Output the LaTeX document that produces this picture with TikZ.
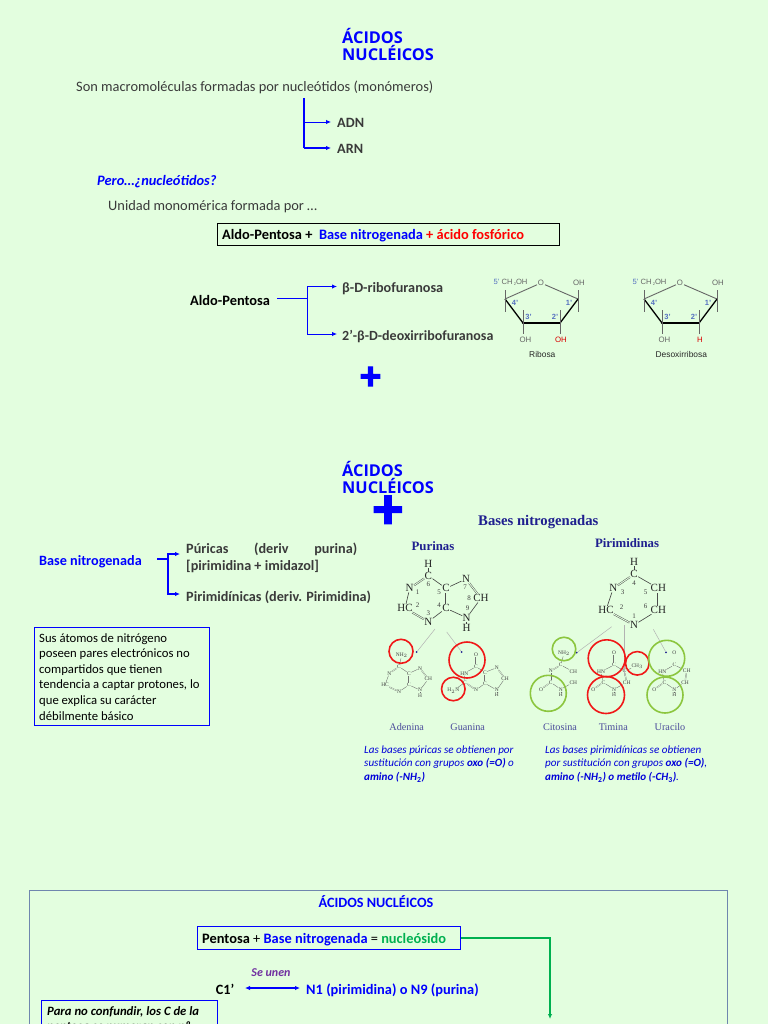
\documentclass[tikz,border=0pt]{standalone}
\usepackage{fontspec}
\setmainfont{Carlito}
\newfontfamily\titlefont{Open Sans}
\newfontfamily\chemfont{Liberation Serif}
\newfontfamily\ringfont{Liberation Sans}
\newfontfamily\plusfont[BoldFont=Carlito Bold,BoldFeatures={FakeBold=3}]{Carlito}
\usetikzlibrary{positioning, calc, arrows.meta}

\definecolor{bgcol}{HTML}{E3FEDF}
\definecolor{txtgray}{HTML}{3A3A3A}
\definecolor{navycol}{HTML}{1F1F8F}
\definecolor{labcol}{HTML}{4A4A9A}
\definecolor{ringblue}{HTML}{5570C0}
\definecolor{ringgray}{HTML}{666666}
\definecolor{framecol}{HTML}{6F86AE}
\definecolor{baseblue}{HTML}{0000FF}
\definecolor{nucgreen}{HTML}{00B050}
\definecolor{unepurple}{HTML}{7030A0}
\definecolor{circred}{HTML}{F01818}
\definecolor{circgreen}{HTML}{8CC63F}

\tikzset{
  txt/.style={anchor=west,inner sep=0pt,text height=13pt,text depth=2pt,font=\fontsize{14.4}{16}\selectfont},
  graytxt/.style={txt,text=txtgray},
  boldtxt/.style={txt,text=txtgray,font=\fontsize{14.2}{16}\selectfont\bfseries},
  bluetxt/.style={txt,text=baseblue,font=\fontsize{14.4}{16}\selectfont\bfseries},
  maintitle/.style={anchor=west,inner sep=0pt,align=left,text=baseblue,font=\fontsize{16.3}{17}\selectfont\titlefont\bfseries},
  plusmark/.style={inner sep=0pt,text=baseblue},
  arrowline/.style={baseblue,line width=1.1pt,-{Latex[length=5pt,width=4.5pt]}},
  plainline/.style={baseblue,line width=1.1pt},
  bluebox/.style={draw=baseblue,line width=.9pt,inner sep=0pt},
  atom/.style={inner sep=.3pt,text=black!85,font=\fontsize{11}{11}\selectfont\chemfont},
  atomnum/.style={inner sep=0pt,text=black!75,font=\fontsize{7}{7}\selectfont\chemfont},
  tinyatom/.style={inner sep=.3pt,text=black!75,font=\fontsize{5.4}{5.4}\selectfont\chemfont},
  bond/.style={black!75,line width=.6pt},
  dbond/.style={black!70,double=bgcol,double distance=.9pt,line width=.45pt},
  tinybond/.style={black!60,line width=.35pt},
  tinydbond/.style={black!55,double=bgcol,double distance=.6pt,line width=.28pt},
  pointer/.style={black!30,line width=.5pt},
  bluedot/.style={circle,fill=navycol,inner sep=0pt,minimum size=2pt},
  redring/.style={circle,draw=circred,line width=1.6pt,inner sep=0pt},
  greenring/.style={circle,draw=circgreen,line width=1.6pt,inner sep=0pt},
  ringlab/.style={inner sep=0pt,font=\fontsize{7.8}{8}\selectfont\ringfont},
  ringnum/.style={inner sep=0pt,text=ringblue,font=\fontsize{7.5}{8}\selectfont\ringfont\bfseries},
  basename/.style={inner sep=0pt,text=labcol,font=\fontsize{10.2}{11}\selectfont\chemfont},
  capt/.style={anchor=north west,inner sep=0pt,align=left,text=baseblue!85!black,font=\fontsize{11.1}{13.5}\selectfont\itshape}
}

\begin{document}
\begin{tikzpicture}[x=1pt,y=-1pt]
  \useasboundingbox (0,0) rectangle (768,1024);
  \clip (0,0) rectangle (768,1024);
  \fill[bgcol] (0,0) rectangle (768,1024);

  % First title and definition
  \node[maintitle] (title1) at (342,44) {ÁCIDOS\\NUCLÉICOS};
  \node[graytxt] (defn) at (76,86) {Son macromoléculas formadas por nucleótidos (monómeros)};
  \node[boldtxt] (adn) at (337,122) {ADN};
  \node[boldtxt] (arn) at (337,148) {ARN};
  \coordinate (treetop) at (304,98);
  \coordinate (treemid) at (304,122);
  \coordinate (treelow) at (304,148);
  \draw[plainline] (treetop) -- (treelow);
  \draw[arrowline,line width=.9pt] (treemid) -- ++(27,0);
  \draw[arrowline] (treelow) -- ++(27,0);

  % Monomer question
  \node[bluetxt,font=\fontsize{14.4}{16}\selectfont\bfseries\itshape] (pero) at (97,180) {Pero…¿nucleótidos?};
  \node[graytxt] (unidad) at (108,205) {Unidad monomérica formada por …};
  \node[draw=black,line width=.9pt,minimum width=342pt,minimum height=22pt,inner sep=0pt] (formula) at (388,234) {};
  \node[txt,font=\fontsize{14.4}{16}\selectfont\bfseries] (formtxt) at (222,234.5) {Aldo-Pentosa + \ \textcolor{baseblue}{Base nitrogenada} \textcolor{red}{+ ácido fosfórico}};

  % Pentose branch
  \node[txt,font=\fontsize{14.4}{16}\selectfont\bfseries] (aldo) at (190,300) {Aldo-Pentosa};
  \node[boldtxt] (ribo) at (342,287) {β-D-ribofuranosa};
  \node[boldtxt,font=\fontsize{14}{16}\selectfont\bfseries] (deoxi) at (342,335) {2’-β-D-deoxirribofuranosa};
  \coordinate (aldojoin) at (307,298.7);
  \draw[plainline,line width=.9pt] (277,298.7) -- (aldojoin);
  \draw[arrowline,line width=.9pt] (aldojoin) |- ($(ribo.west)+(-5,-.5)$);
  \draw[arrowline,line width=.9pt] (aldojoin) |- ($(deoxi.west)+(-5,-1)$);

  % Sugar rings
  \foreach \sug/\dx/\lastatom/\sugname in {rib/0/OH/Ribosa,des/139/H/Desoxirribosa}{
    \begin{scope}[shift={(\dx,0)}]
      \node[ringlab,inner sep=.8pt,text=ringgray] (\sug O) at (541,283) {O};
      \coordinate (\sug C4) at (505,299);
      \coordinate (\sug C1) at (578,299);
      \coordinate (\sug C3) at (523,323);
      \coordinate (\sug C2) at (560,323);
      \draw[ringgray,line width=.9pt] (\sug O) -- (\sug C4);
      \draw[ringgray,line width=.9pt] (\sug O) -- (\sug C1);
      \draw[black,line width=1.3pt] (\sug C4) -- (\sug C3);
      \draw[black,line width=1.3pt] (\sug C1) -- (\sug C2);
      \draw[black,line width=2.4pt,line cap=round] (\sug C3) -- (\sug C2);
      \draw[ringgray,line width=.8pt] (505,290) -- (505,312);
      \draw[ringgray,line width=.8pt] (578,290) -- (578,312);
      \draw[ringgray,line width=.8pt] (523,310) -- (523,334);
      \draw[ringgray,line width=.8pt] (560,310) -- (560,334);
      \node[ringlab,text=ringgray,font=\fontsize{7.6}{8}\selectfont\ringfont] (\sug top) at (510.5,282.5) {\textcolor{ringblue}{5’} CH\,\raisebox{-1pt}{\fontsize{4}{4}\selectfont 2}OH};
      \node[ringlab,text=ringgray] (\sug oh) at (579,282.5) {OH};
      \node[ringnum] (\sug n4) at (515,302.5) {4’};
      \node[ringnum] (\sug n1) at (569,302.5) {1’};
      \node[ringnum] (\sug n3) at (528.5,316.5) {3’};
      \node[ringnum] (\sug n2) at (555,316.5) {2’};
      \node[ringlab,text=ringgray] (\sug oh3) at (525.5,340) {OH};
      \node[ringlab,text=red!85!black] (\sug oh2) at (561,340) {\lastatom};
      \node[ringlab,text=black!85,font=\fontsize{8.4}{9}\selectfont\ringfont] (\sug name) at (542.3,354) {\sugname};
    \end{scope}
  }

  % Big plus signs
  \node[plusmark,font=\fontsize{40}{40}\selectfont\plusfont\bfseries] (plus1) at (370.5,378) {+};
  \node[plusmark,font=\fontsize{58}{58}\selectfont\plusfont\bfseries] (plus2) at (388,512) {+};

  % Second title and base branch
  \node[maintitle] (title2) at (342,477) {ÁCIDOS\\NUCLÉICOS};
  \node[bluetxt,font=\fontsize{14.2}{16}\selectfont\bfseries] (basen) at (39,560) {Base nitrogenada};
  \node[boldtxt] (puric) at (186,548) {\makebox[171pt][s]{Púricas\hfill(deriv\hfill purina)}};
  \node[boldtxt] (puricb) at (186,565) {[pirimidina + imidazol]};
  \node[boldtxt] (pirim) at (186,595.5) {Pirimidínicas (deriv. Pirimidina)};
  \coordinate (basejoin) at (168,559);
  \draw[plainline] (157,559) -- (basejoin);
  \draw[arrowline] (basejoin) |- (180,554);
  \draw[arrowline] (basejoin) |- (180,594);
  \node[bluebox,anchor=north west,minimum width=175pt,minimum height=98pt] (notebox) at (34,627) {};
  \node[anchor=north west,inner sep=0pt,align=left,text=black,font=\fontsize{12.7}{15.6}\selectfont] (notetxt) at (39,633) {Sus átomos de nitrógeno\\poseen pares electrónicos no\\compartidos que tienen\\tendencia a captar protones, lo\\que explica su carácter\\débilmente básico};

  % Titles of the base figure
  \node[anchor=west,inner sep=0pt,text=navycol,font=\fontsize{14.7}{15}\selectfont\chemfont\bfseries] (basetit) at (478,522) {Bases nitrogenadas};
  \node[inner sep=0pt,text=navycol,font=\fontsize{12.8}{13}\selectfont\chemfont\bfseries] (purtit) at (433,546) {Purinas};
  \node[inner sep=0pt,text=navycol,font=\fontsize{12.8}{13}\selectfont\chemfont\bfseries] (pirtit) at (627,543) {Pirimidinas};

  % Purine
  \foreach \id/\x/\y/\sym in {pH/428.3/564.3/H,pC6/428.3/575.7/C,pN1/409.7/588.3/N,pC5/446/588.3/C,pC4/446/608.3/C,pN7/466/579/N,pC8/481/598.3/CH,pN9/466.7/617.7/N,pH9/466.7/628.3/H,pN3/428.3/621.7/N,pC2/405/608.3/HC}
    \node[atom] (\id) at (\x,\y) {\sym};
  \foreach \id/\x/\y/\sym in {n1/417.7/592/1,n6/428.3/584/6,n5/439/592/5,n4/439/605.3/4,n7/465/587.7/7,n8/469/598.3/8,n9/467.7/608/9,n3/428.3/613.3/3,n2/417.7/605.3/2}
    \node[atomnum] (p\id) at (\x,\y) {\sym};
  \foreach \a/\b in {pH/pC6,pC6/pC5,pN1/pC2,pN3/pC4,pC5/pN7,pC8/pN9,pN9/pC4,pN9/pH9}
    \draw[bond] (\a) -- (\b);
  \foreach \a/\b in {pC6/pN1,pC2/pN3,pC4/pC5,pN7/pC8}
    \draw[dbond] (\a) -- (\b);

  % Pyrimidine
  \foreach \id/\x/\y/\sym in {yH/634/562.3/H,yC4/634/574.3/C,yN3/613.3/588.3/N,yC5/658.3/588.3/CH,yC6/658.3/610/CH,yC2/606/610/HC,yN1/634/625/N}
    \node[atom] (\id) at (\x,\y) {\sym};
  \foreach \id/\x/\y/\sym in {n4/634/582.7/4,n3/622.7/592.7/3,n5/645.7/592.7/5,n6/645.7/606.7/6,n2/621.7/606.7/2,n1/634/615.7/1}
    \node[atomnum] (y\id) at (\x,\y) {\sym};
  \foreach \a/\b in {yH/yC4,yN3/yC2,yN1/yC6,yC5/yC4}
    \draw[bond] (\a) -- (\b);
  \foreach \a/\b in {yC4/yN3,yC2/yN1,yC6/yC5}
    \draw[dbond] (\a) -- (\b);

  % Small derived bases
  \foreach \id/\x/\y/\sym in {aNH/401.7/655.3/NH$_2$,aC6/399/666.7/C,aN1/389.3/673.3/N,aC2/385/685/HC,aN3/399/691.7/N,aC4/409/685/C,aC5/409/673.3/C,aN7/420/668.3/N,aC8/428.3/679/CH,aN9/420/690/N,aH/420/695.7/H,
      gO/476/655/O,gC6/476/666.7/C,gN1/464.3/673.3/HN,gC2/465/682.3/C,gNH/453.3/690.7/H$_2$N,gN3/476/690/N,gC4/485/683.3/C,gC5/485/672.3/C,gN7/496.7/667.7/N,gC8/505/678.3/CH,gN9/496.7/690/N,gH/496.7/695/H,
      cNH/564/653.3/NH$_2$,cC4/560.7/665/C,cN3/550.7/671/N,cC5/573.3/671.7/CH,cC6/573.3/682.3/CH,cC2/550.7/682.3/C,cO/541/689.3/O,cN1/560.7/689.3/N,cH/560.7/695/H,
      tO/614/652.7/O,tC4/614/665/C,tN3/601/671.7/HN,tC5/624.3/671/C,tMe/637.3/666/CH$_3$,tC6/626.7/682.3/CH,tC2/603.3/682.3/C,tOb/593.3/689.3/O,tN1/614/689.3/N,tH/614/695/H,
      uO/674.3/652.7/O,uC4/674.3/665/C,uN3/662.3/671.7/HN,uC5/686.7/671/CH,uC6/685/682.3/CH,uC2/664.3/682.3/C,uOb/654.3/689.3/O,uN1/674.3/689.3/N,uH/674.3/695/H}
    \node[tinyatom] (\id) at (\x,\y) {\sym};
  \foreach \a/\b in {aNH/aC6,aC6/aC5,aN1/aC2,aN3/aC4,aC5/aN7,aC8/aN9,aN9/aC4,aN9/aH,
      gC6/gC5,gC6/gN1,gN1/gC2,gC2/gNH,gN3/gC4,gC5/gN7,gC8/gN9,gN9/gC4,gN9/gH,
      cNH/cC4,cC4/cC5,cN3/cC2,cC2/cN1,cN1/cC6,cN1/cH,
      tC4/tN3,tC4/tC5,tC5/tMe,tN3/tC2,tC2/tN1,tN1/tC6,tN1/tH,
      uC4/uN3,uC4/uC5,uN3/uC2,uC2/uN1,uN1/uC6,uN1/uH}
    \draw[tinybond] (\a) -- (\b);
  \foreach \a/\b in {aC6/aN1,aC2/aN3,aC4/aC5,aN7/aC8,gO/gC6,gC2/gN3,gC4/gC5,gN7/gC8,cC4/cN3,cC5/cC6,cC2/cO,tO/tC4,tC5/tC6,tC2/tOb,uO/uC4,uC5/uC6,uC2/uOb}
    \draw[tinydbond] (\a) -- (\b);

  % Pointers from the parent rings
  \foreach \id/\x/\y in {pdA/416.7/652,pdG/461.7/652,pdC/576.7/652.7,pdU/666/652.3}
    \node[bluedot] (\id) at (\x,\y) {};
  \coordinate (ptA) at (435,629);
  \coordinate (ptG) at (446.7,632);
  \coordinate (ptC) at (611.7,626.7);
  \coordinate (ptT) at (624.3,625);
  \coordinate (ptU) at (653.3,629.3);
  \coordinate (ptTend) at (624.3,676);
  \foreach \a/\b in {ptA/pdA,ptG/pdG,ptC/pdC,ptT/ptTend,ptU/pdU}
    \draw[pointer] (\a) -- (\b);

  % Circled groups
  \foreach \id/\x/\y/\d in {rA/401/651.3/24,rG/467/660/36,rGb/453.3/689/23.5,rTa/606.7/658.3/37,rTb/606/695/37,rTc/637.3/663.3/23.5}
    \node[redring,minimum size=\d pt] (\id) at (\x,\y) {};
  \foreach \id/\x/\y/\d in {gCa/564/649/23.5,gCb/548.3/693.3/36,gUa/666.7/658.3/36,gUb/665/695/36}
    \node[greenring,minimum size=\d pt] (\id) at (\x,\y) {};

  % Names of the bases
  \foreach \id/\x/\sym in {adenina/406.7/Adenina,guanina/467.7/Guanina,citosina/560/Citosina,timina/613.3/Timina,uracilo/670/Uracilo}
    \node[basename] (\id) at (\x,727) {\sym};

  % Captions
  \node[capt] (captpur) at (364,745.5) {Las bases púricas se obtienen por\\sustitución con grupos \textbf{oxo (=O)} o\\\textbf{amino (-NH$_{\mathbf{2}}$)}};
  \node[capt] (captpir) at (545,745.5) {Las bases pirimidínicas se obtienen\\por sustitución con grupos \textbf{oxo (=O)},\\\textbf{amino (-NH$_{\mathbf{2}}$) o metilo (-CH$_{\mathbf{3}}$)}.};

  % Lower frame
  \node[draw=framecol,line width=1pt,anchor=north west,minimum width=698pt,minimum height=200pt,inner sep=0pt] (frame) at (29,890) {};
  \node[bluetxt,anchor=center,font=\fontsize{14.2}{15}\selectfont\bfseries] (title3) at (376,902) {ÁCIDOS NUCLÉICOS};
  \node[bluebox,anchor=north west,minimum width=263pt,minimum height=23pt] (nucbox) at (197,926) {};
  \node[txt,text=black] (nuctxt) at (202,938) {\textbf{Pentosa} + \textcolor{baseblue}{\textbf{Base nitrogenada}} = \textcolor{nucgreen}{\textbf{nucleósido}}};
  \coordinate (nucend) at (550,1019);
  \draw[nucgreen,line width=1.4pt,-{Latex[length=5pt,width=4.5pt]}] (nucbox.east) -| (nucend);
  \node[inner sep=0pt,text=unepurple,font=\fontsize{12}{14}\selectfont\itshape\bfseries] (seunen) at (271,973) {Se unen};
  \node[boldtxt,anchor=center,text=black] (cone) at (225,989) {C1’};
  \node[bluetxt] (nunion) at (306,989) {N1 (pirimidina) o N9 (purina)};
  \draw[baseblue,line width=1.2pt,{Latex[length=5pt,width=4.5pt]}-{Latex[length=5pt,width=4.5pt]}] (245,988) -- (300,988);
  \node[bluebox,anchor=north west,minimum width=176pt,minimum height=60pt] (warnbox) at (41,1000) {};
  \node[anchor=north west,inner sep=0pt,align=left,text=black,font=\fontsize{12.7}{14.5}\selectfont\bfseries\itshape] (warntxt) at (47,1006.5) {Para no confundir, los C de la\\pentosa se numeran con nº};
\end{tikzpicture}
\end{document}
